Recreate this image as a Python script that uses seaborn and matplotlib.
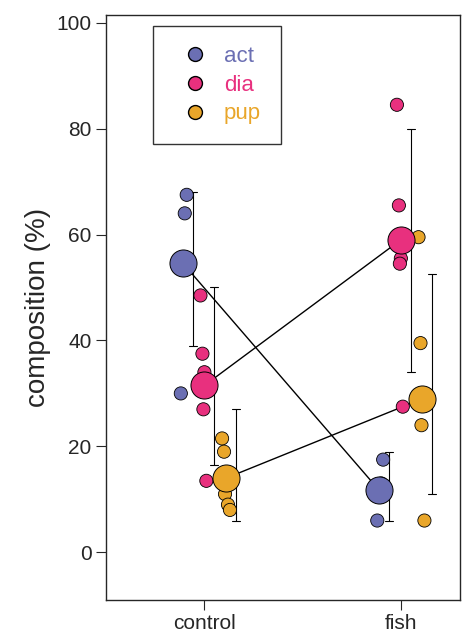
import numpy as np
import pandas as pd
import matplotlib
matplotlib.use("Agg")
import matplotlib.pyplot as plt
import seaborn as sns

sns.set_style("ticks")
plt.rcParams['font.family'] = ['Liberation Sans', 'DejaVu Sans']

groups = ["control", "fish"]
stages = ["act", "dia", "pup"]
colors = {"act": "#6b6fb3", "dia": "#e8307e", "pup": "#e9a62a"}

# individual replicate values (%)
control_act = [67.5, 64, 55, 54, 30]
control_dia = [48.5, 37.5, 34, 27, 13.5]
control_pup = [21.5, 19, 14.5, 11, 9, 8]
fish_act = [17.5, 13, 12, 10.5, 6]
fish_dia = [84.5, 65.5, 55.5, 54.5, 27.5]
fish_pup = [59.5, 39.5, 28, 24, 6]

# means and error bar limits
means = {"act": [54.6, 11.7], "dia": [31.5, 59.0], "pup": [14.0, 29.0]}
err_lo = {"act": [39, 6], "dia": [16.5, 34], "pup": [6, 11]}
err_hi = {"act": [68, 19], "dia": [50, 80], "pup": [27, 52.5]}

raw = {("control", "act"): control_act, ("control", "dia"): control_dia,
       ("control", "pup"): control_pup, ("fish", "act"): fish_act,
       ("fish", "dia"): fish_dia, ("fish", "pup"): fish_pup}

offset = {"act": -0.11, "dia": 0.0, "pup": 0.11}
jit = [-0.02, -0.01, 0.0, -0.005, 0.01, 0.02]

rows = []
for (g, s), vals in raw.items():
    for i, v in enumerate(vals):
        rows.append({"x": groups.index(g) + offset[s] + jit[i % len(jit)] * (1 if s != "act" else -1),
                     "value": v, "stage": s})
df = pd.DataFrame(rows)

fig = plt.figure(figsize=(4.74, 6.41), dpi=100)
ax = fig.add_axes([0.224, 0.064, 0.746, 0.913])

for s in stages:
    xs = np.arange(2) + offset[s]
    ax.plot(xs, means[s], color="black", lw=1, zorder=1)
    for i in range(2):
        ax.plot([xs[i] + 0.05] * 2, [err_lo[s][i], err_hi[s][i]], color="black", lw=0.8, zorder=1)
        for yv in (err_lo[s][i], err_hi[s][i]):
            ax.plot([xs[i] + 0.03, xs[i] + 0.07], [yv, yv], color="black", lw=0.8, zorder=1)

sns.scatterplot(data=df, x="x", y="value", hue="stage", palette=colors,
                s=90, edgecolor="black", linewidth=0.6, ax=ax, legend=False, zorder=3)
for s in stages:
    ax.scatter(np.arange(2) + offset[s], means[s], s=380, color=colors[s],
               edgecolor="black", linewidth=0.7, zorder=4)

handles = [plt.Line2D([], [], marker="o", ls="", markerfacecolor=colors[s],
                      markeredgecolor="black", markersize=10) for s in stages]
leg = ax.legend(handles, stages, loc="upper left", fontsize=16, frameon=True,
                fancybox=False, borderpad=0.9, handletextpad=0.3, labelspacing=0.35,
                bbox_to_anchor=(0.1, 1.0))
leg.get_frame().set_edgecolor("black")
leg.get_frame().set_linewidth(1)
for t, s in zip(leg.get_texts(), stages):
    t.set_color(colors[s])

ax.set_xlim(-0.5, 1.3)
ax.set_ylim(-9, 101.5)
ax.set_xticks([0, 1])
ax.set_xticklabels(groups, fontsize=15)
ax.set_yticks(range(0, 101, 20))
ax.tick_params(axis="y", labelsize=15, length=7)
ax.tick_params(axis="x", length=7, pad=3)
ax.set_xlabel("")
ax.set_ylabel("composition (%)", fontsize=20)
for sp in ax.spines.values():
    sp.set_visible(True)
    sp.set_linewidth(1)

fig.savefig("out.png", dpi=100)
